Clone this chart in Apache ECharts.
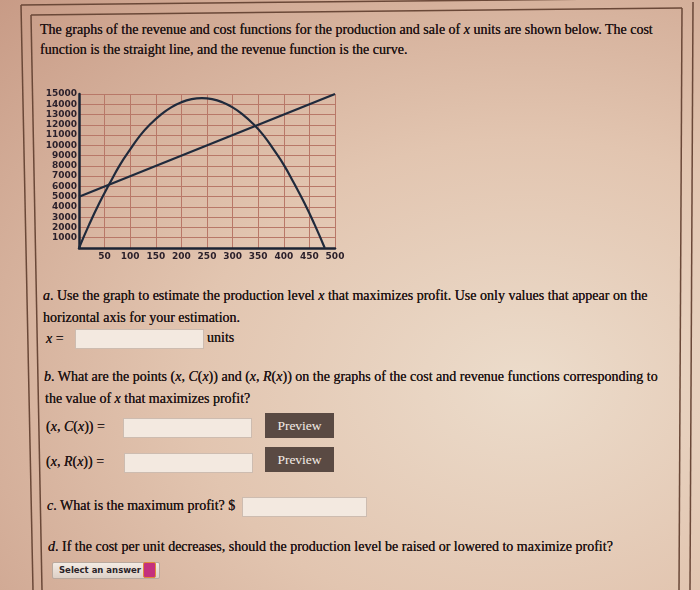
<!DOCTYPE html>
<html><head><meta charset="utf-8">
<script src="https://cdn.jsdelivr.net/npm/echarts@6/dist/echarts.min.js"></script>
<style>
html,body{margin:0;padding:0;width:700px;height:590px;overflow:hidden;}
body{background:radial-gradient(ellipse at 75% 65%, #ecdccb 0%, #e2c5b0 45%, #c89b86 100%);font-family:"Liberation Serif","DejaVu Serif",serif;color:#221515;position:relative;}
.t{position:absolute;font-size:14px;white-space:nowrap;line-height:16px;text-shadow:0 0 0.5px #221515;}
.box{position:absolute;background:#f3e9e0;border:1px solid #cdbcb0;}
.btn{position:absolute;background:#5a4a43;color:#f4ece6;font-size:13.5px;text-align:center;font-family:"Liberation Serif",serif;}
.sel{position:absolute;font-family:"DejaVu Sans",sans-serif;font-weight:bold;font-size:8.5px;background:linear-gradient(#f3ebe4,#ddd0c6);border:1px solid #b9a99e;border-radius:2px;color:#2a2228;}
.arr{position:absolute;background:#c4307d;border:1px solid #e08a3a;border-radius:2px;}
#chart{position:absolute;left:30px;top:80px;width:320px;height:190px;}
svg{position:absolute;left:0;top:0;}
</style></head>
<body>
<svg width="700" height="590">
<g stroke="#6a4838" stroke-width="1.5" fill="none">
<polyline points="21,5 33,590"/>
<polyline points="31,15 42,590"/>
<polyline points="21,5 700,-2"/>
<polyline points="31,15 682,8"/>
<polyline points="682,8 679,590"/>
<polyline points="693,2 690,590"/>
</g>
</svg>
<div class="t" style="left:40px;top:22px;">The graphs of the revenue and cost functions for the production and sale of <i>x</i> units are shown below. The cost</div>
<div class="t" style="left:40px;top:42px;">function is the straight line, and the revenue function is the curve.</div>
<div id="chart"></div>
<div class="t" style="left:43px;top:288px;"><i>a</i>. Use the graph to estimate the production level <i>x</i> that maximizes profit. Use only values that appear on the</div>
<div class="t" style="left:43px;top:310px;">horizontal axis for your estimation.</div>
<div class="t" style="left:46px;top:331px;"><i>x</i> =</div>
<div class="box" style="left:75px;top:329px;width:127px;height:18px;"></div>
<div class="t" style="left:207px;top:330px;">units</div>
<div class="t" style="left:44px;top:369px;"><i>b</i>. What are the points (<i>x</i>, <i>C</i>(<i>x</i>)) and (<i>x</i>, <i>R</i>(<i>x</i>)) on the graphs of the cost and revenue functions corresponding to</div>
<div class="t" style="left:45px;top:391px;">the value of <i>x</i> that maximizes profit?</div>
<div class="t" style="left:46px;top:419px;">(<i>x</i>, <i>C</i>(<i>x</i>)) =</div>
<div class="box" style="left:123px;top:418px;width:127px;height:18px;"></div>
<div class="btn" style="left:265px;top:413px;width:69px;height:25px;line-height:25px;">Preview</div>
<div class="t" style="left:46px;top:454px;">(<i>x</i>, <i>R</i>(<i>x</i>)) =</div>
<div class="box" style="left:124px;top:453px;width:127px;height:18px;"></div>
<div class="btn" style="left:265px;top:447px;width:69px;height:25px;line-height:25px;">Preview</div>
<div class="t" style="left:47px;top:498px;"><i>c</i>. What is the maximum profit? $</div>
<div class="box" style="left:242px;top:497px;width:123px;height:18px;"></div>
<div class="t" style="left:48px;top:539px;"><i>d</i>. If the cost per unit decreases, should the production level be raised or lowered to maximize profit?</div>
<div class="sel" style="left:52px;top:562px;width:100px;height:15px;line-height:15px;padding-left:6px;">Select an answer</div>
<div class="arr" style="left:143px;top:562px;width:11px;height:14px;"></div>
<script>
const xTicks = [0, 50, 100, 150, 200, 250, 300, 350, 400, 450, 500];
const yMin = 0, yMax = 15000, yStep = 1000;
const costX = [0, 500];
const costY = [5000, 15000];
const revX = [0, 20, 40, 60, 80, 100, 120, 140, 160, 180, 200, 220, 240, 260, 280, 300, 320, 340, 360, 380, 400, 420, 440, 460, 480];
const revY = [0, 2300, 4400, 6300, 8100, 9600, 11000, 12100, 13000, 13700, 14200, 14500, 14600, 14500, 14200, 13700, 13000, 12100, 11000, 9600, 8100, 6300, 4400, 2300, 0];

const chart = echarts.init(document.getElementById('chart'), null, {renderer:'canvas'});
const lbl = {fontSize:9, fontWeight:'bold', fontFamily:'DejaVu Sans', color:'#2a1f2a'};
chart.setOption({
  animation:false,
  grid:{left:49, top:14, width:256, height:154, containLabel:false},
  xAxis:{type:'value', min:xTicks[0], max:xTicks[xTicks.length-1], interval:50,
    axisLine:{show:true, onZero:false, lineStyle:{color:'#1c2434', width:2.5}},
    axisTick:{show:false},
    splitLine:{show:true, lineStyle:{color:'#b87868', width:1}},
    axisLabel:Object.assign({margin:4, formatter:v=> v===0?'':String(v)}, lbl)},
  yAxis:{type:'value', min:yMin, max:yMax, interval:yStep,
    axisLine:{show:true, onZero:false, lineStyle:{color:'#1c2434', width:2.5}},
    axisTick:{show:false},
    splitLine:{show:true, lineStyle:{color:'#b87868', width:1}},
    axisLabel:Object.assign({margin:2, formatter:v=> v===0?'':String(v)}, lbl)},
  series:[
    {type:'line', data:costX.map((x,i)=>[x,costY[i]]), showSymbol:false,
     lineStyle:{color:'#1f2a3c', width:2.2}},
    {type:'line', data:revX.map((x,i)=>[x,revY[i]]), smooth:true, showSymbol:false,
     lineStyle:{color:'#1f2a3c', width:2.2}}
  ]
});
</script>
</body></html>
